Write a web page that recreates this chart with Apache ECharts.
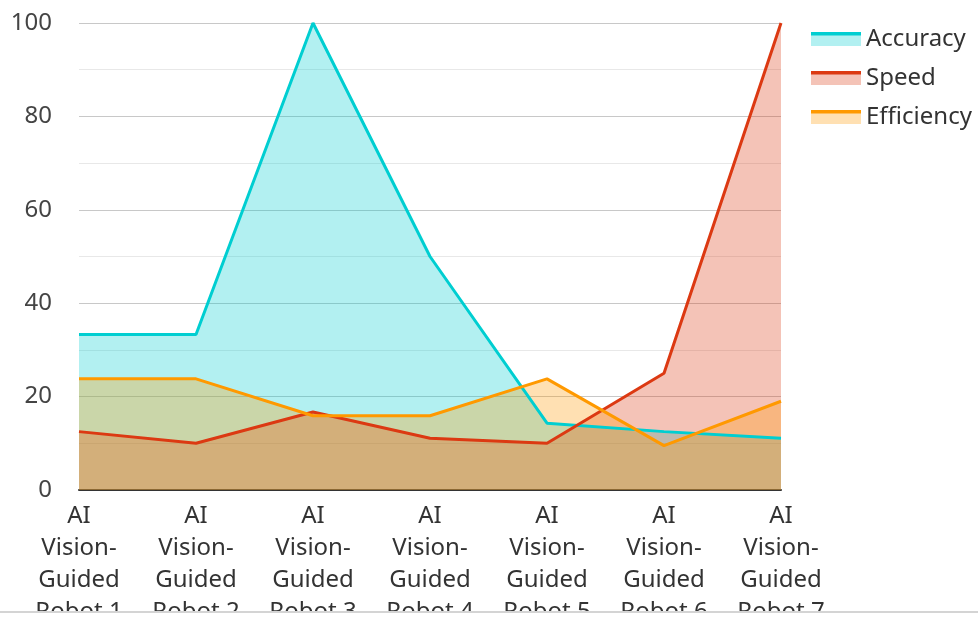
<!DOCTYPE html>
<html>
<head>
<meta charset="utf-8">
<script src="https://cdn.jsdelivr.net/npm/echarts@6/dist/echarts.min.js"></script>
<style>
  html, body { margin: 0; padding: 0; background: #fff; overflow: hidden; }
  #chart { width: 978px; height: 611px; overflow: hidden; }
  #rule { width: 978px; height: 0; border-top: 2px solid #d4d4d4; }
</style>
</head>
<body>
<div id="chart"></div>
<div id="rule"></div>
<script>
const categories = [
  'AI Vision-Guided Robot 1',
  'AI Vision-Guided Robot 2',
  'AI Vision-Guided Robot 3',
  'AI Vision-Guided Robot 4',
  'AI Vision-Guided Robot 5',
  'AI Vision-Guided Robot 6',
  'AI Vision-Guided Robot 7'
];
const seriesNames = ['Accuracy', 'Speed', 'Efficiency'];
const accuracy = [33.3, 33.3, 100, 50, 14.3, 12.5, 11.1];
const speed = [12.5, 10, 16.7, 11.1, 10, 25, 100];
const efficiency = [23.8, 23.8, 15.9, 15.9, 23.8, 9.5, 19.0];
const yTicks = [0, 20, 40, 60, 80, 100];

const colors = ['#00CED1', '#DC3912', '#FF9900'];
const font = "'Noto Sans', 'Open Sans', sans-serif";

const chart = echarts.init(document.getElementById('chart'), null, { renderer: 'canvas' });

function areaSeries(name, data, color) {
  return {
    name: name,
    type: 'line',
    data: data,
    symbol: 'none',
    lineStyle: { width: 3, color: color },
    itemStyle: { color: color },
    areaStyle: { color: color, opacity: 0.3 }
  };
}

// Wrap category names after "AI", "Vision-" and "Guided".
function wrapLabel(v) {
  return v.replace('AI ', 'AI\n').replace('Vision-', 'Vision-\n').replace('Guided ', 'Guided\n');
}

const legendBase = {
  orient: 'vertical',
  left: 806,
  top: 18,
  itemWidth: 50,
  itemHeight: 14,
  itemGap: 7,
  data: seriesNames
};

chart.setOption({
  animation: false,
  textStyle: { fontFamily: font },
  color: colors,
  grid: { left: 79, right: 197, top: 23, bottom: 121, containLabel: false, outerBoundsMode: 'none' },
  legend: [
    // swatch fill + names
    Object.assign({}, legendBase, {
      icon: 'rect',
      itemStyle: { opacity: 0.3 },
      textStyle: { fontSize: 24, lineHeight: 24, color: '#333', fontFamily: font, padding: [0, 0, 8, 0] }
    }),
    // line stroke along the top of each swatch
    Object.assign({}, legendBase, {
      icon: 'path://M0,0H50V3.6H0Z M0,14H0.05V13.95H0Z',
      symbolKeepAspect: false,
      itemStyle: { opacity: 1 },
      textStyle: { fontSize: 24, lineHeight: 24, color: 'rgba(0,0,0,0)', fontFamily: font, padding: [0, 0, 8, 0] }
    })
  ],
  xAxis: {
    type: 'category',
    boundaryGap: false,
    data: categories,
    axisLine: { lineStyle: { color: '#333', width: 2 } },
    axisTick: { show: false },
    axisLabel: {
      interval: 0,
      fontSize: 24,
      color: '#333',
      lineHeight: 32,
      margin: 10,
      fontFamily: font,
      formatter: wrapLabel
    }
  },
  yAxis: {
    type: 'value',
    min: yTicks[0],
    max: yTicks[yTicks.length - 1],
    interval: yTicks[1] - yTicks[0],
    axisLine: { show: false },
    axisTick: { show: false },
    axisLabel: { fontSize: 24, color: '#444', margin: 27, fontFamily: font },
    splitLine: { lineStyle: { color: '#c8c8c8', width: 1 } },
    minorTick: { show: false, splitNumber: 2 },
    minorSplitLine: { show: true, lineStyle: { color: '#e8e8e8', width: 1 } }
  },
  series: [
    areaSeries(seriesNames[0], accuracy, colors[0]),
    areaSeries(seriesNames[1], speed, colors[1]),
    areaSeries(seriesNames[2], efficiency, colors[2])
  ]
});
</script>
</body>
</html>
